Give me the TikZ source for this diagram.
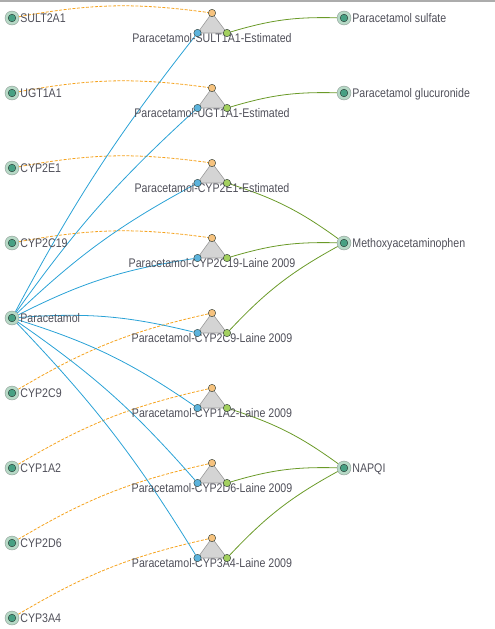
\documentclass[tikz,border=0pt]{standalone}
\usepackage{fontspec}
\setmainfont{Liberation Sans}[FakeStretch=0.85]
\usepackage{tikz}
\usetikzlibrary{backgrounds}

\definecolor{specfill}{HTML}{B6D9C6}
\definecolor{specline}{HTML}{8E9A94}
\definecolor{speccore}{HTML}{47A083}
\definecolor{coreline}{HTML}{24332D}
\definecolor{orangeport}{HTML}{F6C27E}
\definecolor{blueport}{HTML}{5CB3DC}
\definecolor{greenport}{HTML}{A3D05F}
\definecolor{modcol}{HTML}{F5A31F}
\definecolor{subcol}{HTML}{2AA2D6}
\definecolor{prodcol}{HTML}{6A9A28}
\definecolor{trifill}{HTML}{D4D4D4}
\definecolor{triline}{HTML}{9C9C9C}
\definecolor{txt}{HTML}{50505A}

\tikzset{
  every node/.style={font=\fontsize{12.5}{14}\selectfont,text=txt},
  species/.style={circle,minimum size=14pt,inner sep=0pt,draw=specline,fill=specfill,
    path picture={\draw[coreline,fill=speccore] (path picture bounding box.center) circle (3.8pt);},
    label={[spectext]right:#1}},
  spectext/.style={inner sep=1pt,text height=8.9pt,text depth=0pt},
  port/.style={circle,minimum size=7.4pt,inner sep=0pt,draw=coreline,fill=#1},
  rxntext/.style={anchor=base,inner sep=0pt},
  tri/.style={fill=trifill,draw=triline,line width=0.6pt},
  modedge/.style={modcol,dashed,dash pattern=on 3pt off 1.5pt,line width=0.8pt},
  subedge/.style={subcol,line width=0.8pt},
  prodedge/.style={prodcol,line width=0.8pt},
}

\begin{document}
\begin{tikzpicture}[x=1pt,y=-1pt]
  \useasboundingbox (0,0) rectangle (495,629);
  \draw[gray!65,line width=1.5pt] (0,0.75) -- (495,0.75);

  % left column
  \node[species=SULT2A1] (sult2a1) at (12,18) {};
  \node[species=UGT1A1] (ugt1a1) at (12,93) {};
  \node[species=CYP2E1] (cyp2e1) at (12,168) {};
  \node[species=CYP2C19] (cyp2c19) at (12,243) {};
  \node[species=Paracetamol] (paracetamol) at (12,318) {};
  \node[species=CYP2C9] (cyp2c9) at (12,393) {};
  \node[species=CYP1A2] (cyp1a2) at (12,468) {};
  \node[species=CYP2D6] (cyp2d6) at (12,543) {};
  \node[species=CYP3A4] (cyp3a4) at (12,618) {};

  % products
  \node[species=Paracetamol sulfate] (sulfate) at (344,18) {};
  \node[species=Paracetamol glucuronide] (glucuronide) at (344,93) {};
  \node[species=Methoxyacetaminophen] (methoxy) at (344,243) {};
  \node[species=NAPQI] (napqi) at (344,468) {};

  % reactions
  \foreach \i/\rname in {0/SULT1A1-Estimated,1/UGT1A1-Estimated,2/CYP2E1-Estimated,
      3/CYP2C19-Laine 2009,4/CYP2C9-Laine 2009,5/CYP1A2-Laine 2009,
      6/CYP2D6-Laine 2009,7/CYP3A4-Laine 2009} {
    \pgfmathsetmacro\ry{75*\i}
    \draw[tri] (212,13+\ry) -- (197.5,33+\ry) -- (227,33+\ry) -- cycle;
    \node[rxntext] (lbl\i) at (212,42.5+\ry) {Paracetamol-\rname};
    \node[port=orangeport] (enz\i) at (212,13+\ry) {};
    \node[port=blueport] (in\i) at (197.5,33+\ry) {};
    \node[port=greenport] (out\i) at (227,33+\ry) {};
  }

  \begin{scope}[on background layer]
    \foreach \i/\enz in {0/sult2a1,1/ugt1a1,2/cyp2e1,3/cyp2c19,4/cyp2c9,5/cyp1a2,6/cyp2d6,7/cyp3a4}
      \draw[modedge] (\enz) to[bend left=9] (enz\i);
    \foreach \i/\b in {0/5,1/6,2/7.5,3/9,4/9,5/8.5,6/7,7/6}
      \draw[subedge] (paracetamol) to[bend left=\b] (in\i);
    \foreach \i/\prod in {0/sulfate,1/glucuronide,2/methoxy,3/methoxy,4/methoxy,5/napqi,6/napqi,7/napqi}
      \draw[prodedge] (out\i) to[bend left=9] (\prod);
  \end{scope}
\end{tikzpicture}
\end{document}
